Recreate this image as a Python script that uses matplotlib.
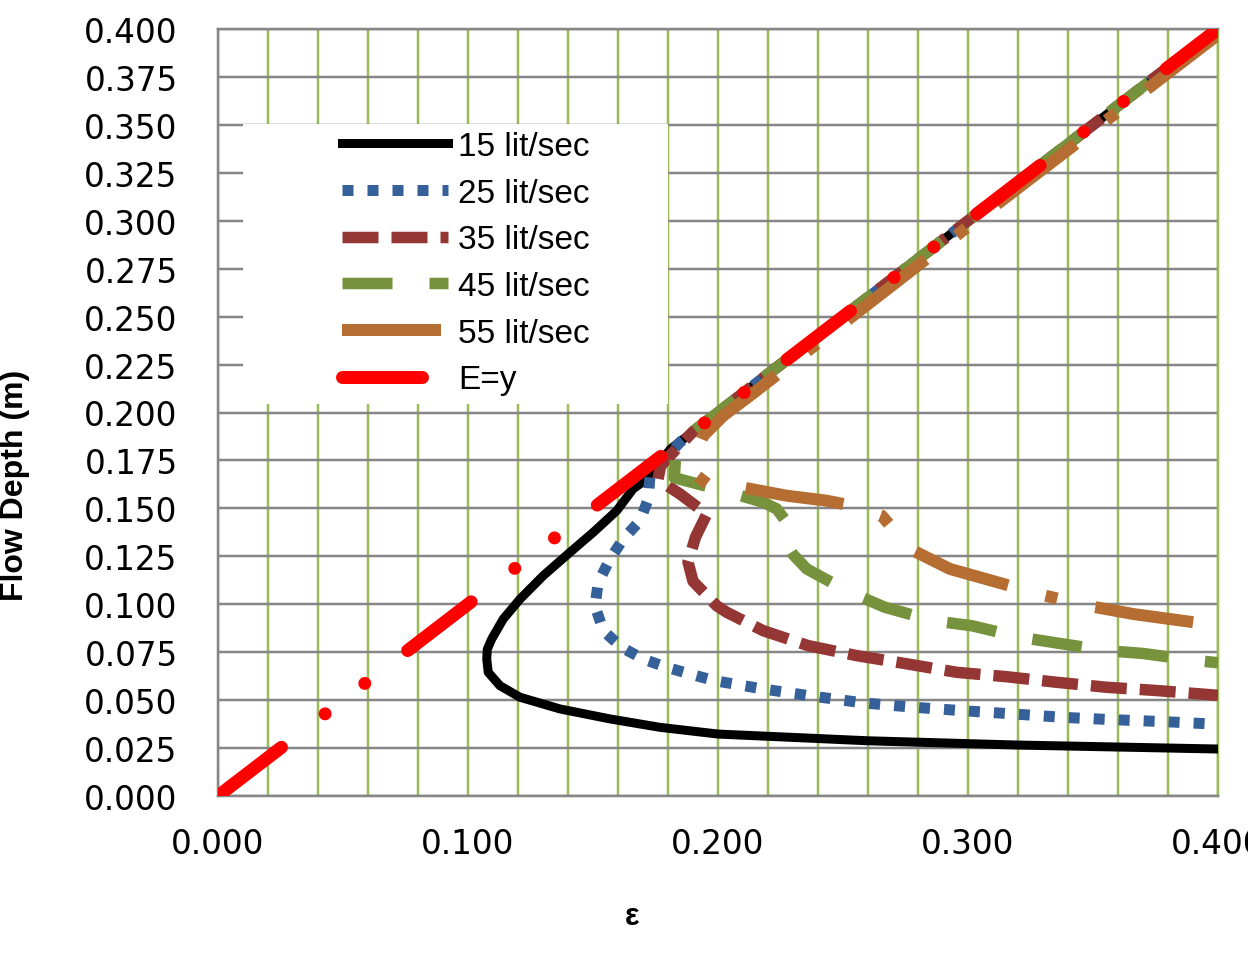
import matplotlib
matplotlib.use("Agg")
import matplotlib.pyplot as plt
from matplotlib.patches import Rectangle
from matplotlib.ticker import MultipleLocator, FormatStrFormatter

# values (epsilon, flow depth in m)
labels = ["15 lit/sec", "25 lit/sec", "35 lit/sec", "45 lit/sec", "55 lit/sec", "E=y"]

eps_15 = [0.400, 0.300, 0.200, 0.181, 0.1715, 0.166, 0.1595, 0.1501, 0.1408, 0.1301, 0.1208,
          0.1141, 0.1095, 0.1077, 0.1075, 0.1081, 0.1128, 0.1208, 0.1368, 0.1568, 0.1768,
          0.2001, 0.260, 0.319, 0.400]
dep_15 = [0.400, 0.300, 0.200, 0.181, 0.1653, 0.1601, 0.1488, 0.1375, 0.1271, 0.1149, 0.1027,
          0.0923, 0.0819, 0.0765, 0.0714, 0.0645, 0.0575, 0.0515, 0.0454, 0.0402, 0.0358,
          0.0323, 0.0288, 0.0266, 0.0245]

eps_25 = [0.400, 0.300, 0.200, 0.1848, 0.1728, 0.1721, 0.1688, 0.1621, 0.1568, 0.1521, 0.1508,
          0.1541, 0.1615, 0.1701, 0.1795, 0.1888, 0.1988, 0.218, 0.2382, 0.2585, 0.2781,
          0.2977, 0.318, 0.3383, 0.3578, 0.3781, 0.400]
dep_25 = [0.400, 0.300, 0.200, 0.1845, 0.167, 0.1549, 0.1436, 0.134, 0.1236, 0.1114, 0.0992,
          0.0862, 0.0775, 0.0714, 0.0671, 0.0636, 0.0601, 0.0558, 0.052, 0.0485, 0.0463,
          0.0445, 0.0428, 0.041, 0.0398, 0.0388, 0.0374]

eps_35 = [0.400, 0.300, 0.200, 0.190, 0.184, 0.177, 0.176, 0.1848, 0.1955, 0.191, 0.188, 0.190,
          0.1995, 0.2035, 0.2181, 0.2361, 0.2555, 0.2761, 0.2955, 0.3155, 0.3355, 0.3555,
          0.3755, 0.400]
dep_35 = [0.400, 0.300, 0.200, 0.190, 0.182, 0.172, 0.165, 0.1575, 0.147, 0.135, 0.122, 0.112,
          0.0992, 0.0958, 0.0862, 0.0784, 0.0732, 0.0688, 0.0645, 0.0622, 0.0593, 0.0567,
          0.055, 0.0525]

eps_45 = [0.400, 0.300, 0.200, 0.188, 0.183, 0.1825, 0.2028, 0.2181, 0.2235, 0.2275, 0.2261,
          0.230, 0.2355, 0.2528, 0.2668, 0.2861, 0.3015, 0.3208, 0.3355, 0.3556, 0.3702,
          0.390, 0.400]
dep_45 = [0.400, 0.300, 0.200, 0.188, 0.176, 0.166, 0.159, 0.1532, 0.1497, 0.1427, 0.134,
          0.126, 0.1184, 0.1062, 0.0984, 0.0914, 0.0888, 0.0828, 0.0798, 0.0758, 0.0743,
          0.0708, 0.0695]

eps_55 = [0.403, 0.303, 0.2165, 0.2128, 0.2021, 0.1941, 0.1908, 0.1915, 0.196, 0.2095, 0.2275,
          0.2435, 0.2568, 0.2655, 0.2768, 0.2928, 0.3308, 0.348, 0.3661, 0.4005]
dep_55 = [0.400, 0.300, 0.2125, 0.2088, 0.1983, 0.1879, 0.1775, 0.167, 0.1625, 0.161, 0.1566,
          0.154, 0.1506, 0.1462, 0.1288, 0.1184, 0.1045, 0.0992, 0.0949, 0.0888]

eps_line = [0.0, 0.1, 0.2, 0.3, 0.4]
dep_line = [0.0, 0.1, 0.2, 0.3, 0.4]

colors = ["#000000", "#36609A", "#943634", "#76923C", "#B66D31", "#FF0000"]

plt.rcParams["lines.scale_dashes"] = False
PX = 72 / 100  # pixels -> points at dpi 100

fig = plt.figure(figsize=(12.48, 9.70), dpi=100)
ax = fig.add_axes([218 / 1248, 173 / 970, 1000 / 1248, 767 / 970])

ax.set_xlim(0, 0.4)
ax.set_ylim(0, 0.4)
ax.xaxis.set_major_locator(MultipleLocator(0.1))
ax.xaxis.set_minor_locator(MultipleLocator(0.02))
ax.yaxis.set_major_locator(MultipleLocator(0.025))
ax.xaxis.set_major_formatter(FormatStrFormatter("%.3f"))
ax.yaxis.set_major_formatter(FormatStrFormatter("%.3f"))

ax.set_axisbelow(True)
ax.grid(axis="x", which="both", color="#9BBB59", lw=2.5 * PX)
ax.grid(axis="y", which="major", color="#868686", lw=2.5 * PX)
ax.tick_params(which="both", length=0)
ax.tick_params(axis="y", pad=29, labelsize=23.5)
ax.tick_params(axis="x", pad=22, labelsize=23.5)
for side in ["left", "bottom", "top"]:
    ax.spines[side].set_color("#868686")
    ax.spines[side].set_linewidth(2.5 * PX)
ax.spines["right"].set_color("#9BBB59")
ax.spines["right"].set_linewidth(2.5 * PX)

# white box behind the legend hides the grid there
ax.add_patch(Rectangle((0.025, 0.5111), 0.425, 0.365, transform=ax.transAxes,
                       facecolor="white", edgecolor="none", zorder=1))

ax.plot(eps_15, dep_15, color=colors[0], lw=9 * PX, ls="-", label=labels[0], zorder=3)
ax.plot(eps_25, dep_25, color=colors[1], lw=11 * PX, label=labels[1], zorder=4,
        ls=(0, (11 * PX, 14 * PX)), dash_capstyle="butt")
ax.plot(eps_35, dep_35, color=colors[2], lw=11.5 * PX, label=labels[2], zorder=5,
        ls=(0, (36 * PX, 13 * PX)), dash_capstyle="butt")
ax.plot(eps_45, dep_45, color=colors[3], lw=11.5 * PX, label=labels[3], zorder=6,
        ls=(0, (50 * PX, 37 * PX)), dash_capstyle="butt")
ax.plot(eps_55, dep_55, color=colors[4], lw=12 * PX, label=labels[4], zorder=7,
        ls=(0, (99 * PX, 39 * PX, 12 * PX, 39 * PX)), dash_capstyle="butt")
ax.plot(eps_line, dep_line, color=colors[5], lw=13 * PX, label=labels[5], zorder=8,
        ls=(0, (80 * PX, 55 * PX, 0.01, 50 * PX, 0.01, 54 * PX)), dash_capstyle="round")

ax.legend(loc="upper left", bbox_to_anchor=(341.7 / 1248, 1 - 132 / 970),
          bbox_transform=fig.transFigure, frameon=False, borderpad=0, borderaxespad=0,
          handlelength=3.2, handletextpad=0.3, labelspacing=0.47,
          prop={"family": "Liberation Sans", "size": 24})

fig.text(15 / 1248, 1 - 485 / 970, "Flow Depth (m)", rotation=90, ha="center", va="center",
         fontsize=23, fontweight="bold", family="Liberation Sans")
fig.text(632 / 1248, 1 - 917 / 970, "ε", ha="center", va="center",
         fontsize=22, fontweight="bold", family="Liberation Sans")

fig.savefig("out.png", dpi=100)
